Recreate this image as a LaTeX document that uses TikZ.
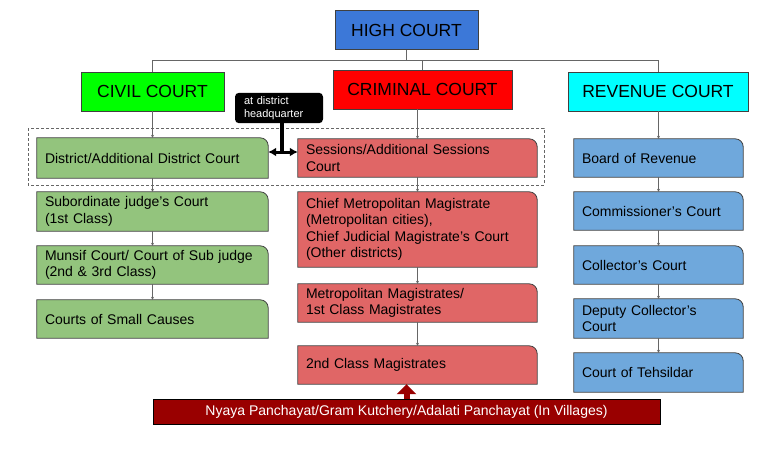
\documentclass[tikz,border=0pt]{standalone}
\usepackage{fontspec}
\setmainfont{Liberation Sans}
\usetikzlibrary{arrows.meta}
\usepackage{xcolor}
\pgfdeclarelayer{background}
\pgfsetlayers{background,main}

\definecolor{hcblue}{HTML}{3C78D8}
\definecolor{civgreen}{HTML}{00FF00}
\definecolor{crmred}{HTML}{FF0000}
\definecolor{revcyan}{HTML}{00FFFF}
\definecolor{civbox}{HTML}{93C47D}
\definecolor{crmbox}{HTML}{E06666}
\definecolor{revbox}{HTML}{6FA8DC}
\definecolor{vilred}{HTML}{990000}
\definecolor{edgegray}{HTML}{666666}

\begin{document}
\begin{tikzpicture}[x=1pt,y=-1pt,>=Latex,
  head/.style={draw=black!75,line width=0.8pt,minimum height=39pt,
    font=\fontsize{17.5}{21}\selectfont},
  court/.style={inner xsep=8pt,inner ysep=0pt,align=left,
    font=\fontsize{14}{16.5}\selectfont},
  civb/.style={court,text width=215pt},
  crmb/.style={court,text width=223pt},
  revb/.style={court,text width=153pt},
  tree/.style={edgegray,line width=1pt},
  link/.style={edgegray,line width=0.9pt,-{Stealth[length=3pt,width=3pt]}},
  outline/.style={draw=black!75,line width=0.8pt}]
  \useasboundingbox (0,0) rectangle (768,450);

  % top level
  \node[head,fill=hcblue,minimum width=143pt] (hc) at (406.5,30) {HIGH COURT};
  \node[head,fill=civgreen,minimum width=143pt] (civ) at (152.5,91.5) {CIVIL COURT};
  \node[head,fill=crmred,minimum width=179pt] (crm) at (422.5,89.5) {CRIMINAL COURT};
  \node[head,fill=revcyan,minimum width=180pt] (rev) at (658,91.5) {REVENUE COURT};

  \coordinate (bus) at (0,60);
  \draw[tree] (hc.south) -- (hc.south |- bus);
  \draw[tree] (civ.north |- bus) -- (rev.north |- bus);
  \foreach \n in {civ,crm,rev}
    \draw[tree] (\n.north |- bus) -- (\n.north);

  % district level
  \draw[dashed,dash pattern=on 3pt off 2pt,black!60,line width=0.8pt] (28,128) rectangle (544,185);

  % civil courts
  \node[civb,minimum height=40pt] (dc) at (152.5,158) {District/Additional District Court};
  \node[civb,minimum height=39pt] (sj) at (152.5,211.5) {Subordinate judge’s Court\\(1st Class)};
  \node[civb,minimum height=38pt] (mu) at (152.5,265) {Munsif Court/ Court of Sub judge\\(2nd \& 3rd Class)};
  \node[civb,minimum height=38pt] (sc) at (152.5,319) {Courts of Small Causes};

  % criminal courts
  \node[crmb,minimum height=38pt] (ss) at (417.5,158) {Sessions/Additional Sessions\\Court};
  \node[crmb,minimum height=75pt] (cm) at (417.5,229.5) {Chief Metropolitan Magistrate\\(Metropolitan cities),\\Chief Judicial Magistrate’s Court\\(Other districts)};
  \node[crmb,minimum height=38pt] (mm) at (417.5,303) {Metropolitan Magistrates/\\1st Class Magistrates};
  \node[crmb,minimum height=38pt] (m2) at (417.5,365) {2nd Class Magistrates};

  % revenue courts
  \node[revb,minimum height=38pt] (br) at (658.5,158) {Board of Revenue};
  \node[revb,minimum height=38pt] (cc) at (658.5,211) {Commissioner’s Court};
  \node[revb,minimum height=38pt] (co) at (658.5,265) {Collector’s Court};
  \node[revb,minimum height=39pt] (dp) at (658.5,318.5) {Deputy Collector’s\\Court};
  \node[revb,minimum height=39pt] (ts) at (658.5,372.5) {Court of Tehsildar};

  \begin{pgfonlayer}{background}
    \foreach \n/\c in {dc/civbox,sj/civbox,mu/civbox,sc/civbox,
                       ss/crmbox,cm/crmbox,mm/crmbox,m2/crmbox,
                       br/revbox,cc/revbox,co/revbox,dp/revbox,ts/revbox}
      \draw[outline,fill=\c] (\n.south west) -- (\n.north west)
        [rounded corners=8pt] -- (\n.north east) [sharp corners] -- (\n.south east) -- cycle;
  \end{pgfonlayer}

  \foreach \a/\b in {civ/dc,dc/sj,sj/mu,mu/sc,
                     crm/ss,ss/cm,cm/mm,mm/m2,
                     rev/br,br/cc,cc/co,co/dp,dp/ts}
    \draw[link] (\b.north |- \a.south) -- (\b.north);

  % callout
  \node[fill=black,rounded corners=4pt,text=white,align=left,text width=70pt,
    inner xsep=9pt,minimum height=30pt,font=\fontsize{11}{13.5}\selectfont]
    (hq) at (279,108) {at district\\headquarter};
  \coordinate (jn) at (282,152);
  \draw[line width=3.5pt] (hq.south -| jn) -- (jn);
  \draw[line width=3pt,{Latex[length=8pt,width=9pt]}-{Latex[length=8pt,width=9pt]}]
    (dc.east |- jn) -- (ss.west |- jn);

  % villages
  \node[draw=black,fill=vilred,text=white,minimum width=507pt,minimum height=25pt,
    inner sep=0pt,font=\fontsize{14}{16.5}\selectfont] (np) at (406.5,411.5)
    {Nyaya Panchayat/Gram Kutchery/Adalati Panchayat (In Villages)};
  \draw[vilred,line width=6pt,-{Triangle[width=19pt,length=10pt]}]
    (np.north) -- (np.north |- m2.south);
\end{tikzpicture}
\end{document}
